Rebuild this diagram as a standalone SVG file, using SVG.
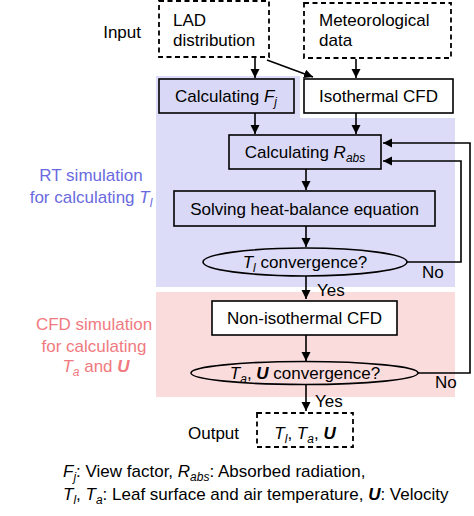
<svg xmlns="http://www.w3.org/2000/svg" width="474" height="516" viewBox="0 0 474 516">
<style>
text{font-family:"Liberation Sans",Arial,sans-serif;font-size:17px;fill:#000}
.c{text-anchor:middle}
.box{fill:#fff;stroke:#000;stroke-width:1.6}
.bbox{fill:#d9d9f7;stroke:#000;stroke-width:1.6}
.dash{fill:#fff;stroke:#000;stroke-width:1.8;stroke-dasharray:5,3.5}
.ell{fill:none;stroke:#000;stroke-width:1.6}
.ln{fill:none;stroke:#000;stroke-width:1.6;marker-end:url(#ah)}
.blue{fill:#6a6ae0}
.pink{fill:#f07a80}
.sub{font-size:12px}
.leg{font-size:17px}
</style>
<defs>
<marker id="ah" markerUnits="userSpaceOnUse" markerWidth="10" markerHeight="10" refX="9" refY="4.5" orient="auto">
<path d="M0,0 L9,4.5 L0,9 z" fill="#000"/>
</marker>
</defs>
<g id="regions">
<path d="M156,76 H300 V118 H455 V287 H156 Z" fill="#dcdcf8"/>
<rect x="156" y="292" width="299" height="105" fill="#fbdcdd"/>
</g>
<g id="labels">
<text x="141" y="38" style="text-anchor:end">Input</text>
<text x="91" y="181" class="c blue">RT simulation</text>
<text x="91" y="203" class="c blue">for calculating <tspan font-style="italic">T</tspan><tspan class="sub" font-style="italic" dy="4">l</tspan></text>
<text x="94" y="330" class="c pink">CFD simulation</text>
<text x="94" y="352" class="c pink">for calculating</text>
<text x="96" y="372" class="c pink"><tspan font-style="italic">T</tspan><tspan class="sub" font-style="italic" dy="4">a</tspan><tspan dy="-4"> and </tspan><tspan font-weight="bold" font-style="italic">U</tspan></text>
<text x="188" y="439">Output</text>
</g>
<g id="lad">
<rect x="159" y="1" width="110" height="56" class="dash"/>
<text x="173" y="26">LAD</text>
<text x="173" y="46">distribution</text>
</g>
<g id="met">
<rect x="304" y="3" width="147" height="55" class="dash"/>
<text x="319" y="26">Meteorological</text>
<text x="319" y="46">data</text>
</g>
<g id="fj">
<rect x="159" y="79" width="135" height="34" class="bbox"/>
<text x="226" y="102" class="c">Calculating <tspan font-style="italic">F</tspan><tspan class="sub" font-style="italic" dy="4">j</tspan></text>
</g>
<g id="iso">
<rect x="304" y="79" width="149" height="34" class="box"/>
<text x="378.5" y="102" class="c">Isothermal CFD</text>
</g>
<g id="rabs">
<rect x="229" y="135" width="152" height="34" class="bbox"/>
<text x="305" y="158" class="c">Calculating <tspan font-style="italic">R</tspan><tspan class="sub" font-style="italic" dy="4">abs</tspan></text>
</g>
<g id="heat">
<rect x="174" y="191" width="261" height="35" class="bbox"/>
<text x="304.5" y="215" class="c">Solving heat-balance equation</text>
</g>
<g id="conv1">
<ellipse cx="305" cy="262" rx="102" ry="14" class="ell"/>
<text x="305" y="268" class="c"><tspan font-style="italic">T</tspan><tspan class="sub" font-style="italic" dy="4">l</tspan><tspan dy="-4"> convergence?</tspan></text>
</g>
<g id="noniso">
<rect x="212" y="301" width="185" height="34" class="box"/>
<text x="304.5" y="324" class="c">Non-isothermal CFD</text>
</g>
<g id="conv2">
<ellipse cx="304.5" cy="373" rx="113.5" ry="11.5" class="ell"/>
<text x="305" y="379" class="c"><tspan font-style="italic">T</tspan><tspan class="sub" font-style="italic" dy="4">a</tspan><tspan dy="-4">, </tspan><tspan font-weight="bold" font-style="italic">U</tspan> convergence?</text>
</g>
<g id="output">
<rect x="257" y="413" width="96" height="34" class="dash"/>
<text x="305" y="439" class="c"><tspan font-style="italic">T</tspan><tspan class="sub" font-style="italic" dy="4">l</tspan><tspan dy="-4">, </tspan><tspan font-style="italic">T</tspan><tspan class="sub" font-style="italic" dy="4">a</tspan><tspan dy="-4">, </tspan><tspan font-weight="bold" font-style="italic">U</tspan></text>
</g>
<g id="connectors">
<line x1="255" y1="58" x2="255" y2="78" class="ln"/>
<line x1="356" y1="59" x2="356" y2="78" class="ln"/>
<line x1="267" y1="60" x2="313" y2="77" class="ln"/>
<line x1="255" y1="113" x2="255" y2="134" class="ln"/>
<line x1="356" y1="113" x2="356" y2="134" class="ln"/>
<line x1="306" y1="169" x2="306" y2="190" class="ln"/>
<line x1="306" y1="226" x2="306" y2="247" class="ln"/>
<line x1="306" y1="276" x2="306" y2="299" class="ln"/>
<line x1="306" y1="335" x2="306" y2="361" class="ln"/>
<line x1="306" y1="384" x2="306" y2="411" class="ln"/>
<polyline points="407,262 461,262 461,161 383,161" class="ln"/>
<polyline points="418,373 470,373 470,143 383,143" class="ln"/>
<text x="422" y="278">No</text>
<text x="435" y="388">No</text>
<text x="317" y="296">Yes</text>
<text x="315" y="407">Yes</text>
</g>
<g id="legend">
<text x="63" y="477" class="leg"><tspan font-style="italic">F</tspan><tspan class="sub" font-style="italic" dy="4">j</tspan><tspan dy="-4">: View factor, </tspan><tspan font-style="italic">R</tspan><tspan class="sub" font-style="italic" dy="4">abs</tspan><tspan dy="-4">: Absorbed radiation,</tspan></text>
<text x="63" y="500" class="leg"><tspan font-style="italic">T</tspan><tspan class="sub" font-style="italic" dy="4">l</tspan><tspan dy="-4">, </tspan><tspan font-style="italic">T</tspan><tspan class="sub" font-style="italic" dy="4">a</tspan><tspan dy="-4">: Leaf surface and air temperature, </tspan><tspan font-weight="bold" font-style="italic">U</tspan>: Velocity</text>
</g>
</svg>
